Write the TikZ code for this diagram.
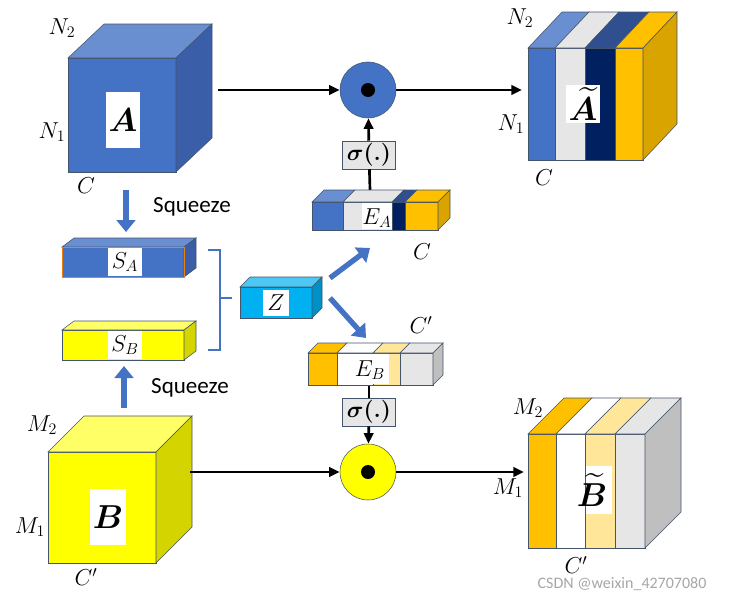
\documentclass[tikz,border=0pt]{standalone}
\usepackage{amsmath,amssymb,bm}
\usepackage{fontspec}
\newfontfamily\sans{Carlito}
\usetikzlibrary{arrows.meta}
\definecolor{cb}{HTML}{4472C4}\definecolor{cbt}{HTML}{6A8FD0}\definecolor{cbs}{HTML}{3A5FA8}
\definecolor{nv}{HTML}{002060}\definecolor{nvt}{HTML}{2F4F8F}
\definecolor{gy}{HTML}{E7E6E6}\definecolor{gys}{HTML}{BFBFBF}
\definecolor{yo}{HTML}{FFC000}\definecolor{yos}{HTML}{D9A300}
\definecolor{ly}{HTML}{FFE699}\definecolor{yl}{HTML}{FFFF00}\definecolor{yls}{HTML}{D4D400}\definecolor{ylt}{HTML}{FFFF66}
\definecolor{cy}{HTML}{00B0F0}\definecolor{cys}{HTML}{0090C8}
\definecolor{edge}{HTML}{44546A}
\newcommand{\myseg}[8]{%
 \filldraw[draw=edge,fill=#7] (#1,#3) rectangle (#2,#4);
 \filldraw[draw=edge,fill=#8] (#1,#3)--({#1+#5},{#3-#6})--({#2+#5},{#3-#6})--(#2,#3)--cycle;}
\newcommand{\myside}[6]{%
 \filldraw[draw=edge,fill=#6] (#1,#2)--({#1+#4},{#2-#5})--({#1+#4},{#3-#5})--(#1,#3)--cycle;}
\tikzset{lab/.style={font=\LARGE},
 wbox/.style={fill=white,inner sep=2pt},
 arr/.style={-{Triangle[length=8pt,width=7pt]},line width=2pt},
 barr/.style={-{Triangle[length=9pt,width=14pt]},line width=5pt,draw=cb},
 sig/.style={draw=edge,fill=gy,minimum width=40pt,minimum height=21pt,font=\bfseries\LARGE,inner sep=1pt},
 sq/.style={font=\sans\LARGE}}
\begin{document}
\begin{tikzpicture}[x=0.75pt,y=-0.75pt]
\useasboundingbox (0,0) rectangle (755,603);
% cube A
\myseg{68}{176}{58}{172}{36}{34}{cb}{cbt}
\myside{176}{58}{172}{36}{34}{cbs}
\node[wbox,font=\Huge,minimum height=42pt] (A) at (123,120) {$\bm{A}$};
\node[lab] (n2) at (62,28) {$N_2$};
\node[lab] (n1) at (52,132) {$N_1$};
\node[lab] (c1) at (86,186) {$C$};
\coordinate (aout) at (218,90);
\node[circle,draw=edge,fill=cb,minimum size=42pt,inner sep=0] (mA) at (368,90) {};
\fill (mA) circle (7);
\draw[arr] (aout) -- (mA);
\coordinate (atin) at (522,90);
\draw[arr] (mA) -- (atin);
\node[sig] (sA) at (369,155) {$\boldsymbol{\sigma}$(.)};
\coordinate (eAtop) at (370,190);
\draw[line width=2pt] (eAtop) -- (sA);
\draw[arr] (sA) -- (mA);
% E_A
\myseg{312}{343}{202}{230}{12}{12}{cb}{cbt}
\myseg{343}{392}{202}{230}{12}{12}{gy}{gy}
\fill[white] (362,203) rectangle (392,229);
\myseg{392}{405}{202}{230}{12}{12}{nv}{nvt}
\myseg{405}{438}{202}{230}{12}{12}{yo}{yo}
\myside{438}{202}{230}{12}{12}{yos}
\node[lab] (EA) at (377,218) {$E_A$};
\node[lab] (c2) at (422,252) {$C$};
% A tilde
\myseg{528}{555}{48}{160}{34}{36}{cb}{cbt}
\myseg{555}{585}{48}{160}{34}{36}{gy}{gy}
\myseg{585}{615}{48}{160}{34}{36}{nv}{nvt}
\myseg{615}{643}{48}{160}{34}{36}{yo}{yo}
\myside{643}{48}{160}{34}{36}{yos}
\node[wbox,font=\Huge] (At) at (583,104) {$\widetilde{\bm{A}}$};
\node[lab] (n2b) at (520,18) {$N_2$};
\node[lab] (n1b) at (511,124) {$N_1$};
\node[lab] (c3) at (544,178) {$C$};
% squeeze A
\coordinate (sq1a) at (126,190); \coordinate (sq1b) at (126,232);
\draw[barr] (sq1a) -- (sq1b);
\node[sq] (sqA) at (192,207) {Squeeze};
% S_A
\myseg{62}{184}{247}{277}{12}{9}{cb}{cbt}
\myside{184}{247}{277}{12}{9}{cbs}
\draw[orange!70!brown] (62,247) rectangle (184,277);
\node[wbox,minimum width=26pt,minimum height=21pt,font=\LARGE] (SA) at (125,262) {$S_A$};
% S_B
\myseg{62}{184}{330}{360}{12}{9}{yl}{ylt}
\myside{184}{330}{360}{12}{9}{yls}
\node[wbox,minimum width=26pt,minimum height=21pt,font=\LARGE] (SB) at (125,345) {$S_B$};
% squeeze B
\coordinate (sq2a) at (124,408); \coordinate (sq2b) at (124,366);
\draw[barr] (sq2a) -- (sq2b);
\node[sq] (sqB) at (190,388) {Squeeze};
% bracket
\draw[cb,line width=2pt] (208,250) -- (220,250) -- (220,350) -- (208,350);
\draw[cb,line width=2pt] (220,298) -- (232,298);
% Z
\myseg{240}{312}{287}{318}{10}{10}{cy}{cy!70}
\myside{312}{287}{318}{10}{10}{cys}
\node[wbox,minimum width=20pt,minimum height=20pt,inner sep=1pt,font=\LARGE] (Z) at (276,303) {$Z$};
\coordinate (z1) at (330,278); \coordinate (z1e) at (370,248);
\coordinate (z2) at (330,298); \coordinate (z2e) at (366,338);
\draw[barr,line width=4pt] (z1) -- (z1e);
\draw[barr,line width=4pt] (z2) -- (z2e);
% E_B
\myseg{308}{337}{353}{385}{10}{10}{yo}{yo}
\myseg{337}{373}{353}{385}{10}{10}{white}{white}
\myseg{373}{400}{353}{385}{10}{10}{ly}{ly}
\fill[white] (355,354) rectangle (389,384);
\myseg{400}{433}{353}{385}{10}{10}{gy}{gy}
\myside{433}{353}{385}{10}{10}{gys}
\node[lab] (EB) at (370,370) {$E_B$};
\node[lab] (c4) at (421,325) {$C'$};
\node[sig] (sB) at (369,412) {$\boldsymbol{\sigma}$(.)};
\coordinate (eBbot) at (369,386);
\draw[line width=2pt] (eBbot) -- (sB);
\node[circle,draw=edge,fill=yl,minimum size=42pt,inner sep=0] (mB) at (368,472) {};
\fill (mB) circle (7);
\draw[arr] (sB) -- (mB);
% cube B
\myseg{48}{156}{452}{563}{36}{36}{yl}{ylt}
\myside{156}{452}{563}{36}{36}{yls}
\node[wbox,font=\Huge,minimum height=42pt] (B) at (108,517) {$\bm{B}$};
\node[lab] (m2) at (42,425) {$M_2$};
\node[lab] (m1) at (30,527) {$M_1$};
\node[lab] (c5) at (86,577) {$C'$};
\coordinate (bout) at (190,472);
\draw[arr] (bout) -- (mB);
\coordinate (btin) at (524,472);
\draw[arr] (mB) -- (btin);
% B tilde
\myseg{528}{556}{434}{548}{36}{36}{yo}{yo}
\myseg{556}{585}{434}{548}{36}{36}{white}{white}
\myseg{585}{615}{434}{548}{36}{36}{ly}{ly}
\fill[white] (586,466) rectangle (612,514);
\myseg{615}{645}{434}{548}{36}{36}{gy}{gy}
\myside{645}{434}{548}{36}{36}{gys}
\node[font=\Huge] (Bt) at (592,490) {$\widetilde{\bm{B}}$};
\node[lab] (m2b) at (528,408) {$M_2$};
\node[lab] (m1b) at (508,488) {$M_1$};
\node[lab] (c6) at (576,565) {$C'$};
\node[font=\sans\large,text=gray!70] (wm) at (622,584) {CSDN @weixin\_42707080};
\end{tikzpicture}
\end{document}
